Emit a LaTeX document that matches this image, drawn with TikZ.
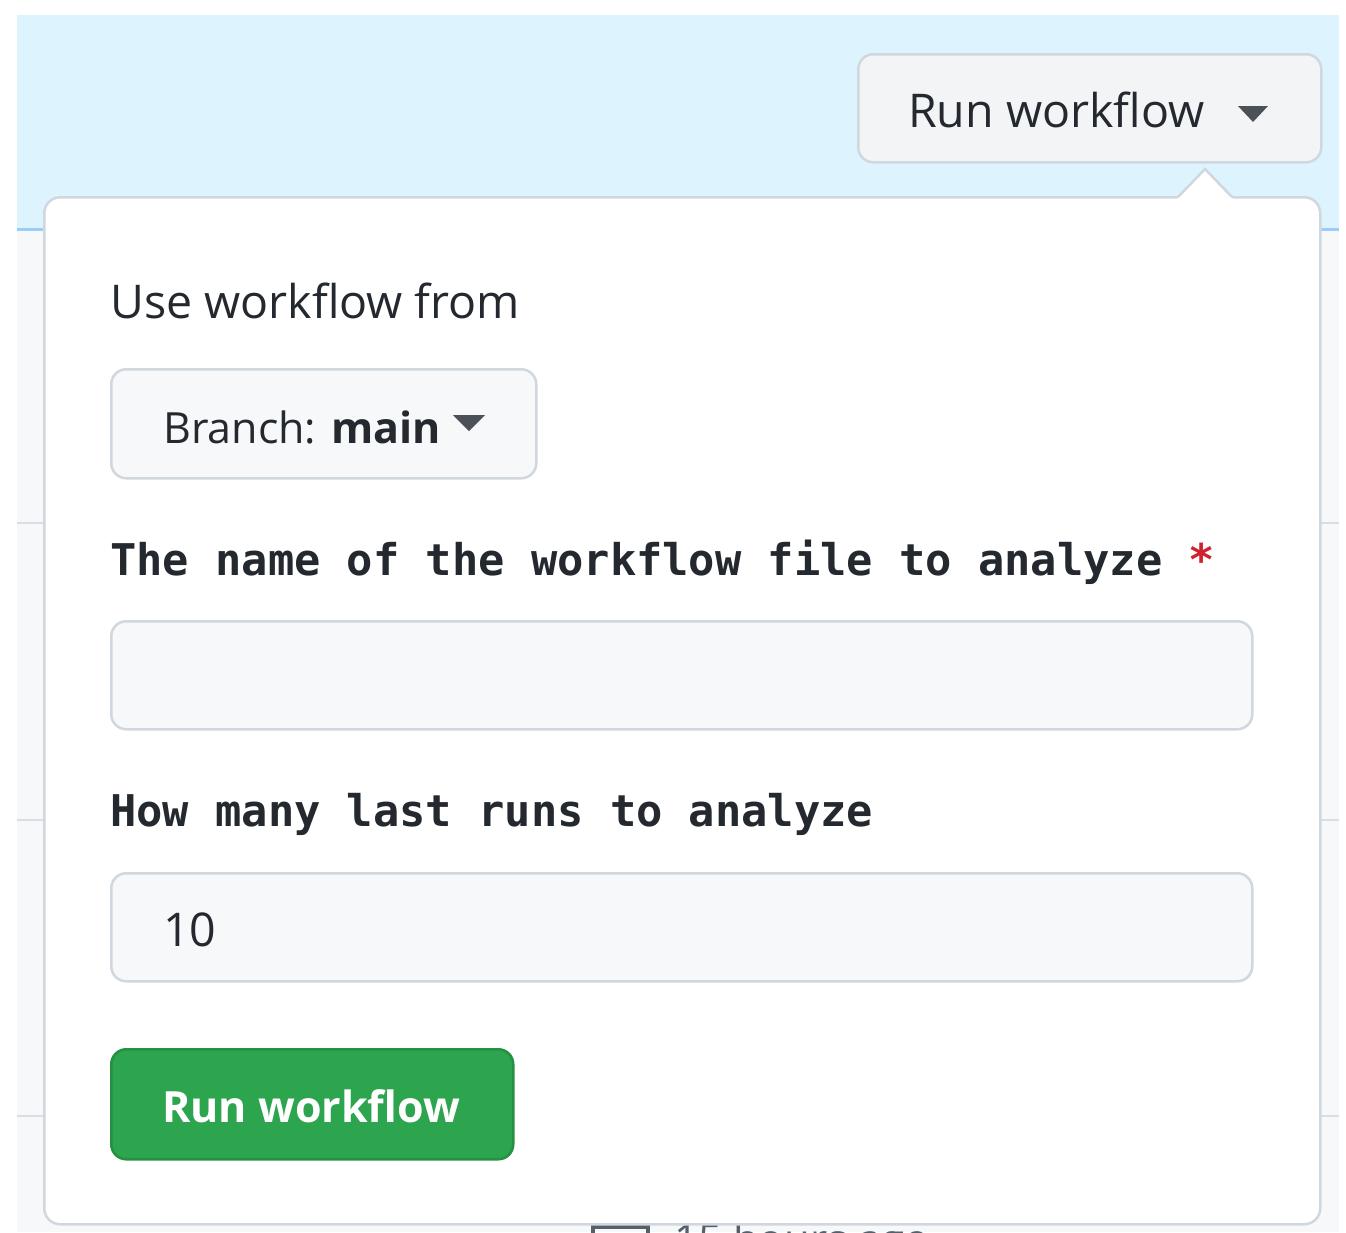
\documentclass[tikz,border=0pt]{standalone}
\usepackage{fontspec}
\setmainfont{Open Sans}
\setmonofont{DejaVu Sans Mono}
\usetikzlibrary{positioning}
\definecolor{ghtext}{HTML}{24292F}
\definecolor{ghmuted}{HTML}{57606A}
\definecolor{ghborder}{HTML}{D0D7DE}
\definecolor{ghbtn}{HTML}{F3F4F6}
\definecolor{ghcanvas}{HTML}{F6F8FA}
\definecolor{ghband}{HTML}{DDF4FF}
\definecolor{ghbandline}{HTML}{9ACDF8}
\definecolor{ghrule}{HTML}{D8DEE4}
\definecolor{ghcaret}{HTML}{4C5157}
\definecolor{ghgreen}{HTML}{2DA44E}
\definecolor{ghgreendark}{HTML}{258F42}
\definecolor{ghred}{HTML}{CF222E}
\tikzset{
  btn/.style={draw=ghborder, fill=ghbtn, line width=2.5pt, rounded corners=15pt, inner sep=0pt},
  inputbox/.style={btn, fill=ghcanvas, minimum width=1141pt, minimum height=108pt, anchor=north west},
  txt/.style={font=\fontsize{46.5}{54}\selectfont, text=ghtext, inner sep=0pt, anchor=base west},
  fieldname/.style={font=\ttfamily\bfseries\fontsize{43.7}{52}\selectfont, text=ghtext, inner sep=0pt, anchor=base west}
}
\begin{document}
\begin{tikzpicture}[x=1pt,y=-1pt]
  \useasboundingbox (0,0) rectangle (1346,1232);
  \clip (0,0) rectangle (1346,1232);
  % page behind the popup
  \fill[ghband] (17,15) rectangle (1339,229);
  \fill[ghcanvas] (17,229) rectangle (1339,1232);
  \draw[ghbandline, line width=3pt] (17,229) -- (1339,229);
  \foreach \y in {523,820,1116}
    \draw[ghrule, line width=2pt] (17,\y) -- (1339,\y);
  \node[draw=ghmuted, line width=4pt, minimum width=55pt, minimum height=40pt, inner sep=0pt, anchor=north west] (clock) at (591,1225) {};
  \node[txt, text=ghmuted, font=\fontsize{42}{50}\selectfont] (ago) at (674,1254) {15 hours ago};
  % top button
  \node[btn, minimum width=463pt, minimum height=108pt, anchor=north west] (runbtn) at (857,53) {};
  \node[txt] (runtxt) at (908,127) {Run workflow};
  \fill[ghcaret] (1238,106) -- (1268,106) -- (1253,122) -- cycle;
  % popup
  \node[btn, fill=white, minimum width=1276pt, minimum height=1027pt, rounded corners=16pt, anchor=north west] (popup) at (43,196) {};
  \coordinate (tip) at (1205,169);
  \fill[white] (1177,199) -- (tip) -- (1233,199) -- cycle;
  \draw[ghborder, line width=2.5pt] (1178,197) -- (tip) -- (1232,197);
  \node[txt] (usefrom) at (110,318) {Use workflow from};
  \node[btn, fill=ghcanvas, minimum width=425pt, minimum height=109pt, anchor=north west] (branch) at (110,368) {};
  \node[txt, font=\fontsize{43}{52}\selectfont] (branchtxt) at (163,443) {Branch: \textbf{main}};
  \fill[ghcaret] (453,415) -- (485,415) -- (469,431) -- cycle;
  \node[fieldname] (namelbl) at (110,575) {The name of the workflow file to analyze {\color{ghred}*}};
  \node[inputbox] (namebox) at (110,620) {};
  \node[fieldname] (runslbl) at (110,826) {How many last runs to analyze};
  \node[inputbox] (runsbox) at (110,872) {};
  \node[txt] (runsval) at (163,946) {10};
  \node[btn, fill=ghgreen, draw=ghgreendark, minimum width=402pt, minimum height=110pt, anchor=north west] (submit) at (110,1048) {};
  \node[txt, text=white, font=\bfseries\fontsize{43}{52}\selectfont] (submittxt) at (162,1122) {Run workflow};
\end{tikzpicture}
\end{document}
